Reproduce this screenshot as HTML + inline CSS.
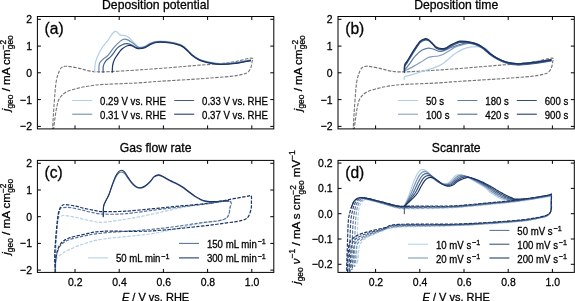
<!DOCTYPE html>
<html><head><meta charset="utf-8"><style>
html,body{margin:0;padding:0;background:#fff;width:575px;height:301px;overflow:hidden}
svg{display:block;font-family:"Liberation Sans",sans-serif;will-change:transform}
text{stroke:#000;stroke-width:0.28px;fill:#000}
</style></head><body><svg width="575" height="301" viewBox="0 0 575 301" font-family="&quot;Liberation Sans&quot;, sans-serif"><defs><clipPath id="clipa"><rect x="37.40" y="16.50" width="236.40" height="112.40"/></clipPath><clipPath id="clipb"><rect x="338.00" y="16.50" width="236.30" height="112.40"/></clipPath><clipPath id="clipc"><rect x="37.40" y="160.40" width="236.40" height="112.00"/></clipPath><clipPath id="clipd"><rect x="338.00" y="160.40" width="236.30" height="112.00"/></clipPath></defs><path d="M52.60,131.00 C52.62,130.43 52.60,129.78 52.70,127.60 C52.80,125.42 53.00,121.27 53.20,117.90 C53.40,114.53 53.60,111.63 53.90,107.40 C54.20,103.17 54.63,96.70 55.00,92.50 C55.37,88.30 55.58,85.27 56.10,82.20 C56.62,79.13 57.27,76.47 58.10,74.10 C58.93,71.73 59.92,69.30 61.10,68.00 C62.28,66.70 63.68,66.53 65.20,66.30 C66.72,66.07 67.68,66.22 70.20,66.60 C72.72,66.98 76.93,67.85 80.30,68.60 C83.67,69.35 86.62,70.55 90.40,71.10 C94.18,71.65 96.40,72.00 103.00,71.90 C109.60,71.80 121.83,70.98 130.00,70.50 C138.17,70.02 143.67,69.62 152.00,69.00 C160.33,68.38 172.00,67.45 180.00,66.80 C188.00,66.15 193.30,65.63 200.00,65.10 C206.70,64.57 214.32,64.18 220.20,63.60 C226.08,63.02 230.08,62.52 235.30,61.60 C240.52,60.68 248.72,58.02 251.50,58.10 C254.28,58.18 252.08,60.58 252.00,62.10 C251.92,63.62 251.60,65.60 251.00,67.20 C250.40,68.80 249.67,70.53 248.40,71.70 C247.13,72.87 246.42,73.42 243.40,74.20 C240.38,74.98 235.87,75.77 230.30,76.40 C224.73,77.03 215.05,77.60 210.00,78.00 C204.95,78.40 208.33,78.25 200.00,78.80 C191.67,79.35 170.33,80.62 160.00,81.30 C149.67,81.98 145.50,82.47 138.00,82.90 C130.50,83.33 121.33,83.62 115.00,83.90 C108.67,84.18 103.78,84.33 100.00,84.60 C96.22,84.87 94.73,85.17 92.30,85.50 C89.87,85.83 87.88,86.12 85.40,86.60 C82.92,87.08 80.60,87.50 77.40,88.40 C74.20,89.30 69.20,90.32 66.20,92.00 C63.20,93.68 60.98,95.93 59.40,98.50 C57.82,101.07 57.43,104.17 56.70,107.40 C55.97,110.63 55.48,114.53 55.00,117.90 C54.52,121.27 54.03,125.42 53.80,127.60 C53.57,129.78 53.63,130.43 53.60,131.00" fill="none" stroke="#777777" stroke-width="1.10" stroke-linejoin="round" stroke-dasharray="3.4 1.4" clip-path="url(#clipa)"/><path d="M94.60,72.70 C94.65,71.62 94.65,68.30 94.90,66.20 C95.15,64.10 95.40,62.28 96.10,60.10 C96.80,57.92 97.93,55.42 99.10,53.10 C100.27,50.78 101.58,48.37 103.10,46.20 C104.62,44.03 106.77,42.03 108.20,40.10 C109.63,38.17 110.62,36.02 111.70,34.60 C112.78,33.18 113.78,32.02 114.70,31.60 C115.62,31.18 116.27,31.52 117.20,32.10 C118.13,32.68 119.03,34.52 120.30,35.10 C121.57,35.68 123.47,35.27 124.80,35.60 C126.13,35.93 127.03,36.18 128.30,37.10 C129.57,38.02 131.05,39.75 132.40,41.10 C133.75,42.45 135.23,44.20 136.40,45.20 C137.57,46.20 137.97,46.95 139.40,47.10 C140.83,47.25 143.22,46.77 145.00,46.10 C146.78,45.43 148.42,43.88 150.10,43.11 C151.78,42.34 153.42,41.80 155.10,41.48 C156.78,41.16 158.52,41.21 160.20,41.20 C161.88,41.19 163.52,41.27 165.20,41.40 C166.88,41.53 168.62,41.73 170.30,42.00 C171.98,42.27 173.68,42.60 175.30,43.00 C176.92,43.40 178.55,43.78 180.00,44.40 C181.45,45.02 182.67,45.70 184.00,46.70 C185.33,47.70 186.50,49.00 188.00,50.40 C189.50,51.80 191.33,53.77 193.00,55.10 C194.67,56.43 196.50,57.57 198.00,58.40 C199.50,59.23 199.98,59.47 202.00,60.10 C204.02,60.73 207.07,61.63 210.10,62.20 C213.13,62.77 216.00,63.45 220.20,63.50 C224.40,63.55 230.17,63.13 235.30,62.50 C240.43,61.87 248.38,60.17 251.00,59.70" fill="none" stroke="#b3cfe8" stroke-width="1.20" stroke-linejoin="round" clip-path="url(#clipa)"/><path d="M98.90,72.70 C98.97,71.28 98.77,66.30 99.30,64.20 C99.83,62.10 100.62,61.62 102.10,60.10 C103.58,58.58 106.18,57.25 108.20,55.10 C110.22,52.95 112.18,49.53 114.20,47.20 C116.22,44.87 118.62,42.45 120.30,41.10 C121.98,39.75 122.97,39.27 124.30,39.10 C125.63,38.93 126.95,39.50 128.30,40.10 C129.65,40.70 130.88,41.60 132.40,42.70 C133.92,43.80 136.23,45.87 137.40,46.70 C138.57,47.53 138.13,47.70 139.40,47.70 C140.67,47.70 143.22,47.37 145.00,46.70 C146.78,46.03 148.42,44.50 150.10,43.70 C151.78,42.91 153.42,42.29 155.10,41.93 C156.78,41.57 158.52,41.59 160.20,41.56 C161.88,41.53 163.52,41.63 165.20,41.76 C166.88,41.89 168.62,42.09 170.30,42.36 C171.98,42.63 173.68,42.96 175.30,43.36 C176.92,43.76 178.55,44.14 180.00,44.76 C181.45,45.38 182.67,46.06 184.00,47.06 C185.33,48.06 186.50,49.36 188.00,50.76 C189.50,52.16 191.33,54.13 193.00,55.46 C194.67,56.79 196.50,57.93 198.00,58.76 C199.50,59.59 199.98,59.83 202.00,60.46 C204.02,61.09 207.07,61.99 210.10,62.56 C213.13,63.13 216.00,63.81 220.20,63.86 C224.40,63.91 230.17,63.49 235.30,62.86 C240.43,62.23 248.38,60.53 251.00,60.06" fill="none" stroke="#6c87aa" stroke-width="1.20" stroke-linejoin="round" clip-path="url(#clipa)"/><path d="M103.10,72.70 C103.13,71.62 102.87,68.13 103.30,66.20 C103.73,64.27 104.38,62.78 105.70,61.10 C107.02,59.42 109.28,58.25 111.20,56.10 C113.12,53.95 115.35,50.10 117.20,48.20 C119.05,46.30 120.62,45.45 122.30,44.70 C123.98,43.95 125.62,43.62 127.30,43.70 C128.98,43.78 130.72,44.45 132.40,45.20 C134.08,45.95 136.23,47.71 137.40,48.20 C138.57,48.69 138.13,48.33 139.40,48.15 C140.67,47.97 143.22,47.82 145.00,47.15 C146.78,46.48 148.42,44.97 150.10,44.15 C151.78,43.34 153.42,42.65 155.10,42.26 C156.78,41.88 158.52,41.87 160.20,41.83 C161.88,41.79 163.52,41.90 165.20,42.03 C166.88,42.16 168.62,42.36 170.30,42.63 C171.98,42.90 173.68,43.23 175.30,43.63 C176.92,44.03 178.55,44.41 180.00,45.03 C181.45,45.65 182.67,46.33 184.00,47.33 C185.33,48.33 186.50,49.63 188.00,51.03 C189.50,52.43 191.33,54.40 193.00,55.73 C194.67,57.06 196.50,58.20 198.00,59.03 C199.50,59.86 199.98,60.10 202.00,60.73 C204.02,61.36 207.07,62.26 210.10,62.83 C213.13,63.40 216.00,64.08 220.20,64.13 C224.40,64.18 230.17,63.76 235.30,63.13 C240.43,62.50 248.38,60.80 251.00,60.33" fill="none" stroke="#405a84" stroke-width="1.20" stroke-linejoin="round" clip-path="url(#clipa)"/><path d="M112.20,72.70 C112.28,71.45 112.28,67.47 112.70,65.20 C113.12,62.93 113.60,61.28 114.70,59.10 C115.80,56.92 118.03,53.83 119.30,52.10 C120.57,50.37 120.97,49.77 122.30,48.70 C123.63,47.63 125.78,46.20 127.30,45.70 C128.82,45.20 130.05,45.37 131.40,45.70 C132.75,46.03 134.07,47.19 135.40,47.70 C136.73,48.21 137.80,48.74 139.40,48.75 C141.00,48.76 143.22,48.42 145.00,47.75 C146.78,47.08 148.42,45.59 150.10,44.75 C151.78,43.91 153.42,43.14 155.10,42.71 C156.78,42.29 158.52,42.24 160.20,42.19 C161.88,42.14 163.52,42.26 165.20,42.39 C166.88,42.52 168.62,42.72 170.30,42.99 C171.98,43.26 173.68,43.59 175.30,43.99 C176.92,44.39 178.55,44.77 180.00,45.39 C181.45,46.01 182.67,46.69 184.00,47.69 C185.33,48.69 186.50,49.99 188.00,51.39 C189.50,52.79 191.33,54.76 193.00,56.09 C194.67,57.42 196.50,58.56 198.00,59.39 C199.50,60.22 199.98,60.46 202.00,61.09 C204.02,61.72 207.07,62.62 210.10,63.19 C213.13,63.76 216.00,64.44 220.20,64.49 C224.40,64.54 230.17,64.12 235.30,63.49 C240.43,62.86 248.38,61.16 251.00,60.69" fill="none" stroke="#1a3463" stroke-width="1.20" stroke-linejoin="round" clip-path="url(#clipa)"/><path d="M353.20,131.00 C353.22,130.43 353.20,129.78 353.30,127.60 C353.40,125.42 353.60,121.27 353.80,117.90 C354.00,114.53 354.20,111.63 354.50,107.40 C354.80,103.17 355.23,96.70 355.60,92.50 C355.97,88.30 356.18,85.27 356.70,82.20 C357.22,79.13 357.87,76.47 358.70,74.10 C359.53,71.73 360.52,69.30 361.70,68.00 C362.88,66.70 364.28,66.53 365.80,66.30 C367.32,66.07 368.28,66.22 370.80,66.60 C373.32,66.98 377.53,67.85 380.90,68.60 C384.27,69.35 387.22,70.55 391.00,71.10 C394.78,71.65 397.00,72.00 403.60,71.90 C410.20,71.80 422.43,70.98 430.60,70.50 C438.77,70.02 444.27,69.62 452.60,69.00 C460.93,68.38 472.60,67.45 480.60,66.80 C488.60,66.15 493.90,65.63 500.60,65.10 C507.30,64.57 514.92,64.18 520.80,63.60 C526.68,63.02 530.68,62.52 535.90,61.60 C541.12,60.68 549.32,58.02 552.10,58.10 C554.88,58.18 552.68,60.58 552.60,62.10 C552.52,63.62 552.20,65.60 551.60,67.20 C551.00,68.80 550.27,70.53 549.00,71.70 C547.73,72.87 547.02,73.42 544.00,74.20 C540.98,74.98 536.47,75.77 530.90,76.40 C525.33,77.03 515.65,77.60 510.60,78.00 C505.55,78.40 508.93,78.25 500.60,78.80 C492.27,79.35 470.93,80.62 460.60,81.30 C450.27,81.98 446.10,82.47 438.60,82.90 C431.10,83.33 421.93,83.62 415.60,83.90 C409.27,84.18 404.38,84.33 400.60,84.60 C396.82,84.87 395.33,85.17 392.90,85.50 C390.47,85.83 388.48,86.12 386.00,86.60 C383.52,87.08 381.20,87.50 378.00,88.40 C374.80,89.30 369.80,90.32 366.80,92.00 C363.80,93.68 361.58,95.93 360.00,98.50 C358.42,101.07 358.03,104.17 357.30,107.40 C356.57,110.63 356.08,114.53 355.60,117.90 C355.12,121.27 354.63,125.42 354.40,127.60 C354.17,129.78 354.23,130.43 354.20,131.00" fill="none" stroke="#777777" stroke-width="1.15" stroke-linejoin="round" stroke-dasharray="3.4 1.4" clip-path="url(#clipb)"/><path d="M404.30,80.20 C404.30,79.70 404.10,77.85 404.30,77.20 C404.50,76.55 404.03,76.77 405.50,76.30 C406.97,75.83 410.15,75.27 413.10,74.40 C416.05,73.53 419.83,72.15 423.20,71.10 C426.57,70.05 430.27,69.18 433.30,68.10 C436.33,67.02 438.87,66.12 441.40,64.60 C443.93,63.08 446.23,60.82 448.50,59.00 C450.77,57.18 452.57,55.35 455.00,53.70 C457.43,52.05 460.58,50.20 463.10,49.10 C465.62,48.00 467.42,47.48 470.10,47.10 C472.78,46.72 476.55,46.52 479.20,46.80 C481.85,47.08 484.03,47.62 486.00,48.80 C487.97,49.98 489.10,52.27 491.00,53.90 C492.90,55.53 494.98,57.23 497.40,58.60 C499.82,59.97 502.90,61.27 505.50,62.10 C508.10,62.93 510.57,63.28 513.00,63.60 C515.43,63.92 516.38,64.18 520.10,64.00 C523.82,63.82 530.08,63.20 535.30,62.50 C540.52,61.80 548.72,60.25 551.40,59.80" fill="none" stroke="#b3cfe8" stroke-width="1.20" stroke-linejoin="round" clip-path="url(#clipb)"/><path d="M404.30,71.00 C405.77,70.27 410.45,68.00 413.10,66.60 C415.75,65.20 417.83,64.03 420.20,62.60 C422.57,61.17 425.12,59.02 427.30,58.00 C429.48,56.98 431.47,56.83 433.30,56.50 C435.13,56.17 436.62,56.38 438.30,56.00 C439.98,55.62 441.37,55.18 443.40,54.20 C445.43,53.22 448.57,51.28 450.50,50.10 C452.43,48.92 452.90,48.02 455.00,47.10 C457.10,46.18 460.58,45.25 463.10,44.60 C465.62,43.95 467.58,43.17 470.10,43.20 C472.62,43.23 476.85,44.57 478.20,44.80 C479.55,45.03 477.18,43.97 478.20,44.60 C479.22,45.23 482.28,47.08 484.30,48.60 C486.32,50.12 488.12,52.10 490.30,53.70 C492.48,55.30 494.87,56.87 497.40,58.20 C499.93,59.53 502.90,60.85 505.50,61.70 C508.10,62.55 510.57,62.97 513.00,63.30 C515.43,63.63 516.38,63.88 520.10,63.70 C523.82,63.52 530.08,62.88 535.30,62.20 C540.52,61.52 548.72,60.03 551.40,59.60" fill="none" stroke="#819dbd" stroke-width="1.20" stroke-linejoin="round" clip-path="url(#clipb)"/><path d="M404.30,70.50 C405.27,69.27 408.30,65.48 410.10,63.10 C411.90,60.72 413.08,58.37 415.10,56.20 C417.12,54.03 420.00,51.45 422.20,50.10 C424.40,48.75 426.45,48.27 428.30,48.10 C430.15,47.93 431.63,48.60 433.30,49.10 C434.97,49.60 436.78,50.77 438.30,51.10 C439.82,51.43 440.88,51.43 442.40,51.10 C443.92,50.77 444.80,50.12 447.40,49.10 C450.00,48.08 454.22,46.12 458.00,45.00 C461.78,43.88 466.73,42.47 470.10,42.40 C473.47,42.33 476.85,44.23 478.20,44.60 C479.55,44.97 477.18,43.93 478.20,44.60 C479.22,45.27 482.28,47.08 484.30,48.60 C486.32,50.12 488.12,52.10 490.30,53.70 C492.48,55.30 494.87,56.87 497.40,58.20 C499.93,59.53 502.90,60.85 505.50,61.70 C508.10,62.55 510.57,62.97 513.00,63.30 C515.43,63.63 516.38,63.88 520.10,63.70 C523.82,63.52 530.08,62.88 535.30,62.20 C540.52,61.52 548.72,60.03 551.40,59.60" fill="none" stroke="#627da2" stroke-width="1.20" stroke-linejoin="round" clip-path="url(#clipb)"/><path d="M404.60,73.10 C404.65,71.98 404.43,68.18 404.90,66.40 C405.37,64.62 406.48,63.88 407.40,62.40 C408.32,60.92 409.07,59.67 410.40,57.50 C411.73,55.33 413.72,51.92 415.40,49.40 C417.08,46.88 418.90,43.95 420.50,42.40 C422.10,40.85 423.65,40.37 425.00,40.10 C426.35,39.83 427.33,40.08 428.60,40.80 C429.87,41.52 431.27,43.13 432.60,44.40 C433.93,45.67 435.08,47.48 436.60,48.40 C438.12,49.32 440.18,49.73 441.70,49.90 C443.22,50.07 444.18,49.98 445.70,49.40 C447.22,48.82 448.70,47.48 450.80,46.40 C452.90,45.32 456.53,43.57 458.30,42.90 C460.07,42.23 459.38,42.32 461.40,42.40 C463.42,42.48 467.55,42.82 470.40,43.40 C473.25,43.98 476.13,44.82 478.50,45.90 C480.87,46.98 482.58,48.38 484.60,49.90 C486.62,51.42 488.42,53.40 490.60,55.00 C492.78,56.60 495.17,58.17 497.70,59.50 C500.23,60.83 503.20,62.15 505.80,63.00 C508.40,63.85 510.87,64.27 513.30,64.60 C515.73,64.93 516.68,65.18 520.40,65.00 C524.12,64.82 530.38,64.18 535.60,63.50 C540.82,62.82 549.02,61.33 551.70,60.90" fill="none" stroke="#48638b" stroke-width="1.20" stroke-linejoin="round" clip-path="url(#clipb)"/><path d="M404.40,72.40 C404.45,71.28 404.23,67.48 404.70,65.70 C405.17,63.92 406.28,63.18 407.20,61.70 C408.12,60.22 408.87,58.97 410.20,56.80 C411.53,54.63 413.52,51.22 415.20,48.70 C416.88,46.18 418.70,43.25 420.30,41.70 C421.90,40.15 423.45,39.67 424.80,39.40 C426.15,39.13 427.13,39.38 428.40,40.10 C429.67,40.82 431.07,42.43 432.40,43.70 C433.73,44.97 434.88,46.78 436.40,47.70 C437.92,48.62 439.98,49.03 441.50,49.20 C443.02,49.37 443.98,49.28 445.50,48.70 C447.02,48.12 448.50,46.78 450.60,45.70 C452.70,44.62 456.33,42.87 458.10,42.20 C459.87,41.53 459.18,41.62 461.20,41.70 C463.22,41.78 467.35,42.12 470.20,42.70 C473.05,43.28 475.93,44.12 478.30,45.20 C480.67,46.28 482.38,47.68 484.40,49.20 C486.42,50.72 488.22,52.70 490.40,54.30 C492.58,55.90 494.97,57.47 497.50,58.80 C500.03,60.13 503.00,61.45 505.60,62.30 C508.20,63.15 510.67,63.57 513.10,63.90 C515.53,64.23 516.48,64.48 520.20,64.30 C523.92,64.12 530.18,63.48 535.40,62.80 C540.62,62.12 548.82,60.63 551.50,60.20" fill="none" stroke="#304a76" stroke-width="1.20" stroke-linejoin="round" clip-path="url(#clipb)"/><path d="M404.30,71.80 C404.35,70.68 404.13,66.88 404.60,65.10 C405.07,63.32 406.18,62.58 407.10,61.10 C408.02,59.62 408.77,58.37 410.10,56.20 C411.43,54.03 413.42,50.62 415.10,48.10 C416.78,45.58 418.60,42.65 420.20,41.10 C421.80,39.55 423.35,39.07 424.70,38.80 C426.05,38.53 427.03,38.78 428.30,39.50 C429.57,40.22 430.97,41.83 432.30,43.10 C433.63,44.37 434.78,46.18 436.30,47.10 C437.82,48.02 439.88,48.43 441.40,48.60 C442.92,48.77 443.88,48.68 445.40,48.10 C446.92,47.52 448.40,46.18 450.50,45.10 C452.60,44.02 456.23,42.27 458.00,41.60 C459.77,40.93 459.08,41.02 461.10,41.10 C463.12,41.18 467.25,41.52 470.10,42.10 C472.95,42.68 475.83,43.52 478.20,44.60 C480.57,45.68 482.28,47.08 484.30,48.60 C486.32,50.12 488.12,52.10 490.30,53.70 C492.48,55.30 494.87,56.87 497.40,58.20 C499.93,59.53 502.90,60.85 505.50,61.70 C508.10,62.55 510.57,62.97 513.00,63.30 C515.43,63.63 516.38,63.88 520.10,63.70 C523.82,63.52 530.08,62.88 535.30,62.20 C540.52,61.52 548.72,60.03 551.40,59.60" fill="none" stroke="#1a3463" stroke-width="1.20" stroke-linejoin="round" clip-path="url(#clipb)"/><path d="M55.60,272.00 C55.63,270.33 55.65,267.33 55.80,262.00 C55.95,256.67 56.12,247.05 56.50,240.00 C56.88,232.95 57.33,223.68 58.10,219.70 C58.87,215.72 59.92,216.78 61.10,216.10 C62.28,215.42 62.83,215.42 65.20,215.60 C67.57,215.78 71.93,216.52 75.30,217.20 C78.67,217.88 82.03,218.95 85.40,219.70 C88.77,220.45 92.57,221.28 95.50,221.70 C98.43,222.12 98.03,222.60 103.00,222.20 C107.97,221.80 117.47,220.57 125.30,219.30 C133.13,218.03 141.45,216.38 150.00,214.60 C158.55,212.82 168.27,210.28 176.60,208.60 C184.93,206.92 191.22,205.72 200.00,204.50 C208.78,203.28 224.32,200.67 229.30,201.30 C234.28,201.93 230.02,206.02 229.90,208.30 C229.78,210.58 229.37,213.27 228.60,215.00 C227.83,216.73 227.18,217.65 225.30,218.70 C223.42,219.75 220.18,220.75 217.30,221.30 C214.42,221.85 214.78,220.78 208.00,222.00 C201.22,223.22 186.27,226.60 176.60,228.60 C166.93,230.60 162.30,232.25 150.00,234.00 C137.70,235.75 113.80,237.47 102.80,239.10 C91.80,240.73 89.73,241.98 84.00,243.80 C78.27,245.62 72.30,248.18 68.40,250.00 C64.50,251.82 62.55,253.27 60.60,254.70 C58.65,256.13 57.53,256.72 56.70,258.60 C55.87,260.48 55.78,263.43 55.60,266.00 C55.42,268.57 55.60,272.67 55.60,274.00" fill="none" stroke="#b3cfe8" stroke-width="1.15" stroke-linejoin="round" stroke-dasharray="3.4 1.4" clip-path="url(#clipc)"/><path d="M55.20,272.00 C55.20,271.72 55.27,272.92 55.20,270.30 C55.13,267.68 54.70,261.35 54.80,256.30 C54.90,251.25 55.30,246.05 55.80,240.00 C56.30,233.95 57.08,225.15 57.80,220.00 C58.52,214.85 59.20,211.17 60.10,209.10 C61.00,207.03 61.52,207.85 63.20,207.60 C64.88,207.35 67.35,207.27 70.20,207.60 C73.05,207.93 76.93,208.85 80.30,209.60 C83.67,210.35 86.62,211.35 90.40,212.10 C94.18,212.85 97.18,213.83 103.00,214.10 C108.82,214.37 116.97,214.35 125.30,213.70 C133.63,213.05 143.88,211.32 153.00,210.20 C162.12,209.08 170.83,208.07 180.00,207.00 C189.17,205.93 199.78,204.80 208.00,203.80 C216.22,202.80 225.65,200.25 229.30,201.00 C232.95,201.75 230.02,205.97 229.90,208.30 C229.78,210.63 229.37,213.27 228.60,215.00 C227.83,216.73 227.18,217.72 225.30,218.70 C223.42,219.68 221.52,220.20 217.30,220.90 C213.08,221.60 206.88,221.97 200.00,222.90 C193.12,223.83 184.33,225.40 176.00,226.50 C167.67,227.60 162.20,228.42 150.00,229.50 C137.80,230.58 113.80,231.92 102.80,233.00 C91.80,234.08 89.73,234.83 84.00,236.00 C78.27,237.17 72.30,238.45 68.40,240.00 C64.50,241.55 62.47,243.13 60.60,245.30 C58.73,247.47 58.03,250.30 57.20,253.00 C56.37,255.70 55.93,258.62 55.60,261.50 C55.27,264.38 55.27,268.22 55.20,270.30 C55.13,272.38 55.20,273.38 55.20,274.00" fill="none" stroke="#557096" stroke-width="1.15" stroke-linejoin="round" stroke-dasharray="3.4 1.4" clip-path="url(#clipc)"/><path d="M55.20,272.00 C55.20,271.72 55.27,272.92 55.20,270.30 C55.13,267.68 54.73,261.35 54.80,256.30 C54.87,251.25 55.13,246.35 55.60,240.00 C56.07,233.65 56.93,223.35 57.60,218.20 C58.27,213.05 58.83,211.22 59.60,209.10 C60.37,206.98 61.27,206.27 62.20,205.50 C63.13,204.73 63.02,204.40 65.20,204.50 C67.38,204.60 71.93,205.42 75.30,206.10 C78.67,206.78 82.03,207.85 85.40,208.60 C88.77,209.35 92.57,210.10 95.50,210.60 C98.43,211.10 98.03,211.50 103.00,211.60 C107.97,211.70 116.97,211.68 125.30,211.20 C133.63,210.72 143.88,209.57 153.00,208.70 C162.12,207.83 170.83,206.90 180.00,206.00 C189.17,205.10 199.87,204.37 208.00,203.30 C216.13,202.23 222.13,200.80 228.80,199.60 C235.47,198.40 244.27,196.75 248.00,196.10 C251.73,195.45 250.63,194.72 251.20,195.70 C251.77,196.68 251.40,199.90 251.40,202.00 C251.40,204.10 251.68,205.92 251.20,208.30 C250.72,210.68 249.93,214.30 248.50,216.30 C247.07,218.30 246.25,219.20 242.60,220.30 C238.95,221.40 233.70,221.90 226.60,222.90 C219.50,223.90 212.77,224.95 200.00,226.30 C187.23,227.65 166.20,230.17 150.00,231.00 C133.80,231.83 113.80,230.73 102.80,231.30 C91.80,231.87 89.73,233.23 84.00,234.40 C78.27,235.57 72.30,236.73 68.40,238.30 C64.50,239.87 62.47,241.58 60.60,243.80 C58.73,246.02 58.03,248.75 57.20,251.60 C56.37,254.45 55.93,257.78 55.60,260.90 C55.27,264.02 55.27,268.12 55.20,270.30 C55.13,272.48 55.20,273.38 55.20,274.00" fill="none" stroke="#1a3463" stroke-width="1.20" stroke-linejoin="round" stroke-dasharray="3.4 1.4" clip-path="url(#clipc)"/><path d="M103.30,217.20 C103.35,215.43 103.13,209.37 103.60,206.60 C104.07,203.84 105.18,202.62 106.10,200.61 C107.02,198.60 108.10,197.01 109.10,194.56 C110.10,192.11 111.00,188.80 112.10,185.91 C113.20,183.03 114.60,179.37 115.70,177.25 C116.80,175.14 117.70,174.08 118.70,173.21 C119.70,172.33 120.70,171.92 121.70,172.00 C122.70,172.07 123.60,172.55 124.70,173.65 C125.80,174.76 127.03,176.91 128.30,178.61 C129.57,180.30 130.97,182.39 132.30,183.82 C133.63,185.26 134.95,186.48 136.30,187.21 C137.65,187.94 138.88,188.37 140.40,188.20 C141.92,188.03 143.72,187.30 145.40,186.20 C147.08,185.10 149.07,183.12 150.50,181.60 C151.93,180.08 152.65,178.13 154.00,177.10 C155.35,176.07 157.08,175.40 158.60,175.40 C160.12,175.40 161.17,176.15 163.10,177.10 C165.03,178.05 168.02,180.00 170.20,181.10 C172.38,182.20 174.18,182.68 176.20,183.70 C178.22,184.72 180.28,185.87 182.30,187.20 C184.32,188.53 186.18,190.13 188.30,191.70 C190.42,193.27 193.03,195.28 195.00,196.60 C196.97,197.92 198.25,198.77 200.10,199.60 C201.95,200.43 203.58,201.18 206.10,201.60 C208.62,202.02 211.42,202.18 215.20,202.10 C218.98,202.02 226.53,201.27 228.80,201.10" fill="none" stroke="#557096" stroke-width="1.10" stroke-linejoin="round" clip-path="url(#clipc)"/><path d="M103.30,216.70 C103.35,214.93 103.13,208.87 103.60,206.10 C104.07,203.33 105.18,202.12 106.10,200.10 C107.02,198.08 108.10,196.48 109.10,194.00 C110.10,191.52 111.00,188.18 112.10,185.20 C113.20,182.22 114.60,178.37 115.70,176.10 C116.80,173.83 117.70,172.58 118.70,171.60 C119.70,170.62 120.70,170.12 121.70,170.20 C122.70,170.28 123.60,170.87 124.70,172.10 C125.80,173.33 127.03,175.75 128.30,177.60 C129.57,179.45 130.97,181.68 132.30,183.20 C133.63,184.72 134.95,185.95 136.30,186.70 C137.65,187.45 138.88,187.87 140.40,187.70 C141.92,187.53 143.72,186.80 145.40,185.70 C147.08,184.60 149.07,182.62 150.50,181.10 C151.93,179.58 152.65,177.63 154.00,176.60 C155.35,175.57 157.08,174.90 158.60,174.90 C160.12,174.90 161.17,175.65 163.10,176.60 C165.03,177.55 168.02,179.50 170.20,180.60 C172.38,181.70 174.18,182.18 176.20,183.20 C178.22,184.22 180.28,185.37 182.30,186.70 C184.32,188.03 186.18,189.63 188.30,191.20 C190.42,192.77 193.03,194.78 195.00,196.10 C196.97,197.42 198.25,198.27 200.10,199.10 C201.95,199.93 203.58,200.68 206.10,201.10 C208.62,201.52 211.42,201.68 215.20,201.60 C218.98,201.52 226.53,200.77 228.80,200.60" fill="none" stroke="#1a3463" stroke-width="1.10" stroke-linejoin="round" clip-path="url(#clipc)"/><path d="M404.10,206.70 L404.34,206.12 L404.59,205.55 L404.84,204.97 L405.09,204.40 L405.34,203.82 L405.59,203.25 L405.83,202.67 L406.08,202.10 L406.33,201.52 L406.57,200.95 L406.82,200.37 L407.06,199.80 L407.31,199.22 L407.55,198.64 L407.79,198.06 L408.03,197.48 L408.27,196.90 L408.50,196.32 L408.73,195.74 L408.96,195.16 L409.18,194.57 L409.40,193.99 L409.62,193.40 L409.83,192.81 L410.03,192.22 L410.23,191.62 L410.43,191.03 L410.63,190.44 L410.83,189.84 L411.02,189.25 L411.21,188.65 L411.41,188.05 L411.60,187.46 L411.80,186.86 L412.00,186.27 L412.20,185.68 L412.40,185.09 L412.62,184.50 L412.83,183.91 L413.05,183.32 L413.28,182.74 L413.51,182.16 L413.75,181.58 L413.99,181.00 L414.23,180.42 L414.47,179.84 L414.72,179.27 L414.97,178.70 L415.22,178.12 L415.48,177.55 L415.75,176.99 L416.01,176.42 L416.29,175.86 L416.57,175.29 L416.85,174.74 L417.15,174.19 L417.46,173.64 L417.80,173.11 L418.15,172.60 L418.53,172.10 L418.95,171.63 L419.40,171.20 L419.87,170.78 L420.35,170.38 L420.86,170.02 L421.41,169.73 L422.01,169.56 L422.63,169.50 L423.26,169.53 L423.88,169.64 L424.47,169.83 L425.04,170.10 L425.58,170.42 L426.08,170.79 L426.55,171.20 L427.00,171.64 L427.44,172.09 L427.86,172.54 L428.29,173.01 L428.71,173.47 L429.14,173.93 L429.56,174.39 L429.97,174.86 L430.38,175.34 L430.77,175.82 L431.17,176.31 L431.57,176.79 L431.97,177.27 L432.38,177.74 L432.80,178.20 L433.24,178.65 L433.69,179.08 L434.17,179.49 L434.67,179.87 L435.18,180.22 L435.71,180.56 L436.26,180.87 L436.81,181.16 L437.37,181.44 L437.94,181.70 L438.51,181.96 L439.09,182.20 L439.67,182.43 L440.26,182.65 L440.85,182.87 L441.43,183.08 L442.03,183.28 L442.63,183.47 L443.23,183.62 L443.85,183.72 L444.48,183.76 L445.10,183.74 L445.72,183.64 L446.32,183.48 L446.91,183.27 L447.49,183.02 L448.05,182.74 L448.59,182.43 L449.12,182.10 L449.64,181.74 L450.14,181.37 L450.63,180.98 L451.09,180.56 L451.53,180.11 L451.94,179.63 L452.33,179.15 L452.72,178.66 L453.11,178.16 L453.50,177.67 L453.90,177.19 L454.32,176.73 L454.77,176.30 L455.26,175.91 L455.77,175.55 L456.31,175.22 L456.87,174.96 L457.47,174.76 L458.08,174.65 L458.71,174.61 L459.33,174.61 L459.96,174.64 L460.58,174.71 L461.20,174.81 L461.81,174.95 L462.42,175.11 L463.01,175.30 L463.60,175.50 L464.19,175.73 L464.77,175.96 L465.34,176.21 L465.91,176.47 L466.48,176.74 L467.04,177.02 L467.59,177.31 L468.15,177.60 L468.70,177.90 L469.25,178.20 L469.80,178.51 L470.34,178.81 L470.89,179.12 L471.43,179.43 L471.98,179.74 L472.52,180.05 L473.06,180.37 L473.60,180.68 L474.14,180.99 L474.69,181.30 L475.23,181.62 L475.77,181.93 L476.32,182.24 L476.86,182.55 L477.40,182.86 L477.95,183.18 L478.49,183.49 L479.03,183.80 L479.57,184.12 L480.11,184.44 L480.65,184.76 L481.19,185.08 L481.72,185.40 L482.26,185.72 L482.79,186.05 L483.32,186.39 L483.85,186.72 L484.37,187.07 L484.89,187.42 L485.40,187.78 L485.90,188.15 L486.38,188.56 L486.84,188.99 L487.26,189.45 L487.67,189.92 L488.08,190.40 L488.51,190.85 L488.96,191.28 L489.44,191.68 L489.95,192.06 L490.46,192.42 L490.97,192.78 L491.48,193.14 L492.00,193.49 L492.52,193.84 L493.04,194.19 L493.56,194.53 L494.09,194.87 L494.62,195.21 L495.15,195.54 L495.68,195.87 L496.22,196.19 L496.76,196.50 L497.31,196.81 L497.86,197.11 L498.41,197.40 L498.97,197.68 L499.54,197.95 L500.11,198.20 L500.69,198.44 L501.28,198.66 L501.87,198.87 L502.46,199.07 L503.06,199.25 L503.66,199.42 L504.27,199.59 L504.87,199.74 L505.48,199.88 L506.10,200.01 L506.71,200.13 L507.33,200.25 L507.94,200.36 L508.56,200.46 L509.18,200.55 L509.80,200.64 L510.42,200.73 L511.04,200.81 L511.66,200.88 L512.29,200.94 L512.91,200.99 L513.54,201.01 L514.16,201.01 L514.79,200.99 L515.41,200.95 L516.04,200.91 L516.66,200.86 L517.29,200.80 L517.91,200.74 L518.53,200.67 L519.15,200.61 L519.78,200.54 L520.40,200.46 L521.02,200.38 L521.64,200.30 L522.26,200.22 L522.88,200.13 L523.50,200.04 L524.12,199.96 L524.74,199.87 L525.36,199.77 L525.98,199.68 L526.60,199.59 L527.22,199.49 L527.84,199.39 L528.45,199.30 L529.07,199.20 L529.69,199.10 L530.31,199.00 L530.93,198.90 L531.55,198.79 L532.16,198.69 L532.78,198.58 L533.40,198.48 L534.01,198.37 L534.63,198.26 L535.25,198.16 L535.86,198.04 L536.48,197.93 L537.10,197.81 L537.71,197.70 L538.33,197.58 L538.94,197.46 L539.55,197.34 L540.17,197.21 L540.78,197.09 L541.40,196.96 L542.01,196.84 L542.62,196.71 L543.24,196.58 L543.85,196.46 L544.46,196.33 L545.07,196.20 L545.69,196.07 L546.30,195.94 L546.91,195.81 L547.52,195.68 L548.14,195.55 L548.75,195.42 L549.36,195.29 L549.97,195.16 L550.59,195.03 L551.20,194.90" fill="none" stroke="#b3cfe8" stroke-width="1.20" stroke-linejoin="round" clip-path="url(#clipd)"/><path d="M404.10,206.70 L404.39,206.17 L404.67,205.64 L404.96,205.11 L405.25,204.58 L405.55,204.05 L405.84,203.52 L406.13,202.99 L406.41,202.46 L406.70,201.93 L406.99,201.40 L407.28,200.87 L407.57,200.34 L407.85,199.81 L408.14,199.27 L408.42,198.74 L408.70,198.21 L408.98,197.67 L409.26,197.14 L409.54,196.60 L409.81,196.06 L410.08,195.52 L410.34,194.98 L410.60,194.44 L410.86,193.89 L411.11,193.35 L411.36,192.80 L411.61,192.25 L411.85,191.69 L412.09,191.14 L412.33,190.58 L412.56,190.03 L412.80,189.46 L413.03,188.90 L413.25,188.34 L413.48,187.77 L413.71,187.21 L413.93,186.64 L414.16,186.07 L414.39,185.50 L414.62,184.94 L414.86,184.37 L415.09,183.81 L415.33,183.25 L415.58,182.68 L415.82,182.12 L416.08,181.57 L416.33,181.01 L416.60,180.46 L416.86,179.91 L417.13,179.36 L417.40,178.81 L417.67,178.26 L417.95,177.71 L418.24,177.17 L418.53,176.63 L418.83,176.10 L419.14,175.57 L419.48,175.06 L419.83,174.56 L420.22,174.09 L420.63,173.63 L421.07,173.21 L421.54,172.81 L422.02,172.43 L422.52,172.08 L423.07,171.81 L423.65,171.62 L424.25,171.54 L424.86,171.53 L425.46,171.60 L426.05,171.74 L426.62,171.95 L427.16,172.22 L427.68,172.54 L428.17,172.90 L428.64,173.28 L429.10,173.68 L429.54,174.09 L429.98,174.50 L430.42,174.92 L430.86,175.35 L431.30,175.77 L431.73,176.20 L432.15,176.64 L432.57,177.08 L432.98,177.53 L433.40,177.97 L433.82,178.41 L434.24,178.85 L434.67,179.29 L435.11,179.71 L435.56,180.12 L436.04,180.51 L436.53,180.88 L437.03,181.23 L437.55,181.55 L438.09,181.85 L438.63,182.13 L439.18,182.40 L439.74,182.65 L440.30,182.89 L440.87,183.11 L441.45,183.32 L442.03,183.51 L442.61,183.69 L443.20,183.86 L443.78,184.00 L444.37,184.12 L444.97,184.21 L445.57,184.25 L446.18,184.24 L446.78,184.17 L447.37,184.04 L447.96,183.86 L448.53,183.64 L449.08,183.39 L449.62,183.09 L450.14,182.77 L450.64,182.42 L451.13,182.06 L451.62,181.68 L452.09,181.29 L452.54,180.88 L452.98,180.46 L453.41,180.03 L453.83,179.59 L454.25,179.16 L454.67,178.72 L455.09,178.29 L455.52,177.87 L455.96,177.46 L456.43,177.08 L456.93,176.74 L457.45,176.41 L457.99,176.12 L458.54,175.87 L459.13,175.68 L459.72,175.55 L460.33,175.47 L460.94,175.43 L461.54,175.41 L462.14,175.43 L462.75,175.47 L463.35,175.56 L463.94,175.68 L464.53,175.83 L465.12,176.01 L465.70,176.20 L466.27,176.41 L466.84,176.63 L467.41,176.87 L467.97,177.11 L468.52,177.36 L469.08,177.62 L469.63,177.89 L470.18,178.16 L470.72,178.43 L471.27,178.71 L471.81,178.99 L472.36,179.27 L472.90,179.55 L473.44,179.84 L473.98,180.12 L474.52,180.41 L475.06,180.70 L475.60,180.99 L476.13,181.28 L476.67,181.57 L477.21,181.87 L477.75,182.16 L478.28,182.45 L478.82,182.75 L479.36,183.05 L479.89,183.35 L480.42,183.65 L480.96,183.95 L481.49,184.25 L482.02,184.55 L482.55,184.86 L483.08,185.17 L483.61,185.48 L484.13,185.80 L484.66,186.12 L485.18,186.44 L485.70,186.76 L486.21,187.10 L486.72,187.43 L487.22,187.79 L487.70,188.16 L488.16,188.56 L488.61,188.98 L489.03,189.41 L489.46,189.84 L489.91,190.26 L490.37,190.65 L490.85,191.03 L491.35,191.39 L491.85,191.74 L492.36,192.08 L492.87,192.42 L493.38,192.76 L493.89,193.10 L494.40,193.43 L494.92,193.76 L495.44,194.09 L495.96,194.41 L496.48,194.73 L497.01,195.04 L497.54,195.35 L498.07,195.66 L498.60,195.96 L499.14,196.25 L499.68,196.54 L500.23,196.81 L500.78,197.08 L501.34,197.34 L501.90,197.58 L502.47,197.81 L503.04,198.03 L503.61,198.24 L504.19,198.44 L504.77,198.63 L505.35,198.81 L505.94,198.98 L506.53,199.15 L507.12,199.30 L507.71,199.45 L508.30,199.60 L508.89,199.74 L509.48,199.88 L510.08,200.02 L510.67,200.14 L511.27,200.25 L511.88,200.34 L512.49,200.42 L513.10,200.48 L513.71,200.53 L514.32,200.55 L514.93,200.56 L515.54,200.54 L516.16,200.52 L516.77,200.48 L517.38,200.44 L517.99,200.39 L518.60,200.34 L519.21,200.28 L519.82,200.23 L520.43,200.16 L521.04,200.10 L521.65,200.03 L522.25,199.96 L522.86,199.88 L523.47,199.81 L524.08,199.73 L524.68,199.65 L525.29,199.57 L525.90,199.49 L526.51,199.41 L527.11,199.32 L527.72,199.24 L528.33,199.15 L528.93,199.06 L529.54,198.97 L530.14,198.88 L530.75,198.79 L531.35,198.70 L531.96,198.60 L532.56,198.51 L533.17,198.41 L533.77,198.31 L534.38,198.21 L534.98,198.11 L535.59,198.01 L536.19,197.90 L536.79,197.79 L537.40,197.68 L538.00,197.57 L538.60,197.46 L539.20,197.34 L539.80,197.22 L540.40,197.10 L541.01,196.98 L541.61,196.86 L542.21,196.74 L542.81,196.62 L543.41,196.49 L544.01,196.37 L544.61,196.24 L545.21,196.12 L545.80,195.99 L546.40,195.86 L547.00,195.74 L547.60,195.61 L548.20,195.48 L548.80,195.35 L549.40,195.23 L550.00,195.10 L550.60,194.97 L551.20,194.85" fill="none" stroke="#7994b6" stroke-width="1.20" stroke-linejoin="round" clip-path="url(#clipd)"/><path d="M404.10,206.70 L404.43,206.21 L404.76,205.73 L405.09,205.24 L405.42,204.76 L405.75,204.27 L406.08,203.79 L406.42,203.31 L406.75,202.82 L407.08,202.34 L407.41,201.85 L407.74,201.37 L408.07,200.88 L408.40,200.39 L408.72,199.91 L409.05,199.42 L409.38,198.93 L409.70,198.44 L410.02,197.95 L410.34,197.46 L410.66,196.97 L410.97,196.47 L411.28,195.98 L411.59,195.48 L411.89,194.98 L412.19,194.47 L412.49,193.97 L412.78,193.46 L413.07,192.95 L413.36,192.44 L413.64,191.92 L413.92,191.40 L414.19,190.87 L414.45,190.35 L414.71,189.81 L414.97,189.28 L415.22,188.73 L415.46,188.19 L415.71,187.65 L415.95,187.10 L416.19,186.55 L416.43,186.01 L416.68,185.46 L416.92,184.91 L417.17,184.37 L417.42,183.82 L417.68,183.29 L417.95,182.75 L418.22,182.22 L418.50,181.69 L418.78,181.16 L419.05,180.63 L419.33,180.10 L419.62,179.57 L419.90,179.05 L420.20,178.53 L420.51,178.01 L420.82,177.50 L421.16,177.01 L421.52,176.53 L421.90,176.07 L422.31,175.63 L422.75,175.22 L423.21,174.84 L423.69,174.48 L424.19,174.15 L424.72,173.88 L425.29,173.69 L425.87,173.58 L426.46,173.53 L427.05,173.55 L427.64,173.65 L428.21,173.81 L428.75,174.03 L429.28,174.30 L429.79,174.60 L430.28,174.92 L430.75,175.27 L431.22,175.63 L431.68,176.00 L432.14,176.38 L432.59,176.77 L433.04,177.15 L433.49,177.55 L433.92,177.95 L434.36,178.35 L434.80,178.75 L435.23,179.15 L435.67,179.56 L436.10,179.97 L436.54,180.37 L436.98,180.77 L437.43,181.16 L437.90,181.54 L438.38,181.89 L438.88,182.23 L439.39,182.54 L439.92,182.83 L440.45,183.10 L440.99,183.36 L441.54,183.60 L442.10,183.82 L442.66,184.03 L443.23,184.22 L443.80,184.38 L444.38,184.52 L444.96,184.64 L445.54,184.72 L446.12,184.78 L446.71,184.80 L447.29,184.78 L447.88,184.72 L448.46,184.61 L449.03,184.45 L449.59,184.25 L450.15,184.02 L450.68,183.75 L451.19,183.44 L451.69,183.11 L452.16,182.75 L452.63,182.37 L453.09,181.99 L453.54,181.60 L453.99,181.21 L454.44,180.81 L454.88,180.42 L455.33,180.03 L455.78,179.65 L456.23,179.28 L456.68,178.91 L457.14,178.55 L457.61,178.20 L458.10,177.87 L458.61,177.57 L459.13,177.28 L459.66,177.01 L460.22,176.78 L460.78,176.59 L461.36,176.45 L461.95,176.34 L462.54,176.26 L463.12,176.19 L463.71,176.14 L464.29,176.13 L464.88,176.17 L465.47,176.25 L466.06,176.37 L466.63,176.51 L467.21,176.68 L467.78,176.86 L468.34,177.05 L468.90,177.26 L469.46,177.48 L470.01,177.70 L470.56,177.93 L471.11,178.17 L471.66,178.41 L472.20,178.66 L472.74,178.91 L473.28,179.16 L473.82,179.42 L474.36,179.67 L474.90,179.93 L475.44,180.20 L475.97,180.46 L476.51,180.73 L477.05,180.99 L477.58,181.26 L478.11,181.53 L478.65,181.81 L479.18,182.08 L479.71,182.36 L480.24,182.64 L480.77,182.92 L481.29,183.20 L481.82,183.49 L482.35,183.77 L482.87,184.06 L483.39,184.35 L483.92,184.65 L484.44,184.94 L484.96,185.24 L485.47,185.54 L485.99,185.84 L486.51,186.15 L487.02,186.46 L487.53,186.77 L488.03,187.09 L488.53,187.42 L489.02,187.77 L489.49,188.13 L489.95,188.51 L490.40,188.89 L490.85,189.28 L491.30,189.66 L491.78,190.03 L492.26,190.38 L492.75,190.72 L493.25,191.05 L493.75,191.38 L494.25,191.71 L494.75,192.04 L495.26,192.36 L495.76,192.68 L496.27,193.00 L496.78,193.31 L497.29,193.62 L497.81,193.92 L498.33,194.22 L498.85,194.52 L499.37,194.81 L499.89,195.10 L500.42,195.39 L500.95,195.67 L501.49,195.94 L502.02,196.21 L502.56,196.47 L503.11,196.72 L503.65,196.96 L504.20,197.19 L504.76,197.41 L505.32,197.63 L505.87,197.84 L506.44,198.04 L507.00,198.23 L507.57,198.42 L508.14,198.60 L508.71,198.77 L509.27,198.95 L509.84,199.13 L510.40,199.31 L510.97,199.48 L511.54,199.64 L512.13,199.77 L512.72,199.88 L513.31,199.96 L513.90,200.02 L514.50,200.07 L515.10,200.09 L515.70,200.10 L516.30,200.10 L516.90,200.08 L517.50,200.05 L518.09,200.02 L518.69,199.98 L519.29,199.94 L519.89,199.89 L520.48,199.84 L521.08,199.79 L521.68,199.74 L522.27,199.68 L522.87,199.62 L523.46,199.55 L524.06,199.49 L524.65,199.42 L525.25,199.35 L525.84,199.28 L526.44,199.21 L527.03,199.13 L527.63,199.06 L528.22,198.98 L528.81,198.90 L529.41,198.83 L530.00,198.74 L530.59,198.66 L531.19,198.58 L531.78,198.50 L532.37,198.41 L532.97,198.32 L533.56,198.23 L534.15,198.15 L534.74,198.05 L535.34,197.96 L535.93,197.86 L536.52,197.76 L537.11,197.66 L537.70,197.55 L538.29,197.44 L538.88,197.34 L539.46,197.22 L540.05,197.11 L540.64,197.00 L541.23,196.88 L541.82,196.76 L542.40,196.64 L542.99,196.52 L543.58,196.40 L544.16,196.28 L544.75,196.16 L545.34,196.04 L545.92,195.91 L546.51,195.79 L547.10,195.66 L547.68,195.54 L548.27,195.41 L548.85,195.29 L549.44,195.16 L550.03,195.04 L550.61,194.92 L551.20,194.80" fill="none" stroke="#557096" stroke-width="1.20" stroke-linejoin="round" clip-path="url(#clipd)"/><path d="M404.10,206.70 L404.47,206.26 L404.84,205.82 L405.21,205.38 L405.59,204.94 L405.96,204.50 L406.33,204.06 L406.71,203.62 L407.08,203.18 L407.45,202.74 L407.83,202.30 L408.20,201.86 L408.57,201.42 L408.94,200.98 L409.31,200.54 L409.68,200.10 L410.05,199.65 L410.42,199.21 L410.78,198.76 L411.14,198.32 L411.51,197.87 L411.86,197.42 L412.22,196.97 L412.58,196.52 L412.93,196.06 L413.28,195.60 L413.62,195.14 L413.96,194.68 L414.30,194.21 L414.63,193.74 L414.95,193.26 L415.27,192.78 L415.57,192.28 L415.88,191.79 L416.16,191.29 L416.45,190.78 L416.72,190.26 L416.99,189.74 L417.25,189.22 L417.51,188.70 L417.76,188.17 L418.01,187.64 L418.26,187.11 L418.51,186.58 L418.76,186.05 L419.02,185.53 L419.29,185.01 L419.57,184.49 L419.85,183.98 L420.14,183.47 L420.42,182.96 L420.71,182.45 L420.99,181.94 L421.28,181.43 L421.57,180.92 L421.87,180.42 L422.18,179.92 L422.50,179.43 L422.84,178.96 L423.20,178.49 L423.58,178.05 L423.99,177.63 L424.42,177.24 L424.88,176.87 L425.35,176.53 L425.85,176.22 L426.38,175.96 L426.92,175.76 L427.49,175.61 L428.06,175.53 L428.64,175.50 L429.22,175.56 L429.79,175.67 L430.34,175.84 L430.88,176.05 L431.40,176.30 L431.91,176.56 L432.41,176.86 L432.90,177.17 L433.38,177.50 L433.85,177.84 L434.32,178.19 L434.78,178.54 L435.24,178.89 L435.70,179.25 L436.16,179.61 L436.61,179.97 L437.07,180.33 L437.51,180.70 L437.96,181.08 L438.40,181.46 L438.85,181.83 L439.31,182.20 L439.77,182.56 L440.24,182.90 L440.73,183.23 L441.23,183.53 L441.75,183.81 L442.27,184.07 L442.80,184.32 L443.34,184.55 L443.89,184.76 L444.44,184.95 L445.00,185.11 L445.57,185.25 L446.14,185.35 L446.72,185.42 L447.29,185.45 L447.87,185.44 L448.44,185.39 L449.01,185.31 L449.58,185.19 L450.14,185.04 L450.69,184.85 L451.23,184.63 L451.76,184.39 L452.28,184.11 L452.77,183.79 L453.23,183.44 L453.68,183.07 L454.12,182.69 L454.56,182.30 L455.00,181.91 L455.44,181.53 L455.90,181.16 L456.36,180.81 L456.83,180.48 L457.31,180.15 L457.79,179.84 L458.27,179.53 L458.76,179.23 L459.26,178.94 L459.76,178.66 L460.28,178.40 L460.81,178.15 L461.34,177.91 L461.89,177.70 L462.44,177.51 L463.00,177.34 L463.57,177.21 L464.14,177.08 L464.70,176.96 L465.27,176.86 L465.84,176.79 L466.42,176.78 L467.00,176.82 L467.58,176.90 L468.15,177.02 L468.72,177.15 L469.28,177.30 L469.84,177.47 L470.40,177.65 L470.95,177.84 L471.50,178.04 L472.05,178.24 L472.59,178.45 L473.13,178.67 L473.68,178.89 L474.22,179.11 L474.75,179.34 L475.29,179.56 L475.83,179.80 L476.36,180.03 L476.90,180.27 L477.43,180.51 L477.96,180.75 L478.50,180.99 L479.03,181.24 L479.55,181.49 L480.08,181.74 L480.61,182.00 L481.13,182.26 L481.66,182.52 L482.18,182.79 L482.70,183.06 L483.22,183.33 L483.73,183.60 L484.25,183.88 L484.77,184.15 L485.28,184.43 L485.79,184.71 L486.31,185.00 L486.82,185.28 L487.33,185.57 L487.84,185.86 L488.34,186.15 L488.85,186.45 L489.35,186.75 L489.85,187.05 L490.34,187.37 L490.82,187.70 L491.30,188.03 L491.76,188.38 L492.23,188.72 L492.70,189.06 L493.18,189.40 L493.67,189.72 L494.15,190.05 L494.65,190.36 L495.14,190.68 L495.63,191.00 L496.13,191.31 L496.62,191.62 L497.12,191.93 L497.62,192.23 L498.13,192.53 L498.63,192.82 L499.14,193.11 L499.65,193.40 L500.16,193.69 L500.67,193.97 L501.19,194.25 L501.70,194.53 L502.22,194.80 L502.74,195.07 L503.26,195.34 L503.79,195.60 L504.31,195.85 L504.84,196.10 L505.37,196.35 L505.91,196.59 L506.44,196.82 L506.98,197.05 L507.52,197.27 L508.06,197.48 L508.61,197.69 L509.16,197.89 L509.70,198.10 L510.25,198.30 L510.79,198.52 L511.33,198.74 L511.87,198.95 L512.42,199.13 L512.98,199.29 L513.55,199.41 L514.13,199.50 L514.71,199.56 L515.30,199.61 L515.88,199.64 L516.47,199.65 L517.05,199.65 L517.64,199.64 L518.22,199.62 L518.81,199.60 L519.39,199.57 L519.98,199.54 L520.56,199.50 L521.15,199.46 L521.73,199.42 L522.31,199.37 L522.90,199.32 L523.48,199.27 L524.06,199.22 L524.65,199.16 L525.23,199.11 L525.81,199.05 L526.39,198.99 L526.98,198.92 L527.56,198.86 L528.14,198.79 L528.72,198.73 L529.30,198.66 L529.88,198.59 L530.47,198.52 L531.05,198.44 L531.63,198.37 L532.21,198.30 L532.79,198.22 L533.37,198.14 L533.95,198.06 L534.53,197.98 L535.11,197.89 L535.69,197.80 L536.27,197.71 L536.84,197.62 L537.42,197.52 L538.00,197.42 L538.57,197.32 L539.15,197.21 L539.73,197.11 L540.30,197.00 L540.88,196.89 L541.45,196.77 L542.03,196.66 L542.60,196.55 L543.17,196.43 L543.75,196.31 L544.32,196.19 L544.90,196.07 L545.47,195.96 L546.04,195.83 L546.61,195.71 L547.19,195.59 L547.76,195.47 L548.33,195.35 L548.91,195.23 L549.48,195.10 L550.05,194.98 L550.63,194.87 L551.20,194.75" fill="none" stroke="#36507b" stroke-width="1.20" stroke-linejoin="round" clip-path="url(#clipd)"/><path d="M404.10,206.70 L404.51,206.30 L404.92,205.90 L405.34,205.51 L405.75,205.12 L406.17,204.72 L406.58,204.33 L407.00,203.94 L407.41,203.54 L407.83,203.15 L408.24,202.75 L408.66,202.36 L409.07,201.97 L409.49,201.57 L409.90,201.17 L410.31,200.78 L410.72,200.38 L411.13,199.98 L411.54,199.58 L411.95,199.18 L412.35,198.77 L412.76,198.37 L413.16,197.96 L413.56,197.56 L413.96,197.14 L414.36,196.73 L414.75,196.31 L415.14,195.89 L415.52,195.47 L415.89,195.04 L416.26,194.60 L416.62,194.15 L416.96,193.69 L417.30,193.23 L417.62,192.76 L417.93,192.28 L418.23,191.79 L418.52,191.30 L418.80,190.80 L419.07,190.29 L419.33,189.78 L419.58,189.27 L419.84,188.76 L420.09,188.25 L420.35,187.73 L420.61,187.23 L420.89,186.73 L421.18,186.23 L421.48,185.75 L421.77,185.26 L422.07,184.76 L422.36,184.27 L422.65,183.78 L422.95,183.29 L423.24,182.80 L423.55,182.32 L423.86,181.84 L424.18,181.37 L424.52,180.90 L424.88,180.46 L425.26,180.03 L425.67,179.63 L426.10,179.25 L426.55,178.90 L427.02,178.58 L427.52,178.29 L428.03,178.04 L428.56,177.82 L429.11,177.65 L429.66,177.52 L430.23,177.46 L430.80,177.46 L431.37,177.53 L431.93,177.65 L432.48,177.81 L433.02,177.99 L433.55,178.21 L434.07,178.45 L434.58,178.72 L435.07,179.00 L435.56,179.30 L436.04,179.61 L436.52,179.92 L437.00,180.24 L437.47,180.55 L437.95,180.87 L438.43,181.19 L438.90,181.51 L439.36,181.85 L439.82,182.20 L440.27,182.54 L440.72,182.89 L441.18,183.24 L441.64,183.58 L442.10,183.91 L442.58,184.23 L443.07,184.52 L443.58,184.79 L444.09,185.04 L444.61,185.27 L445.14,185.49 L445.68,185.69 L446.22,185.87 L446.78,186.01 L447.34,186.11 L447.91,186.18 L448.48,186.20 L449.05,186.17 L449.62,186.09 L450.18,185.98 L450.73,185.84 L451.28,185.67 L451.82,185.48 L452.35,185.26 L452.87,185.02 L453.38,184.76 L453.87,184.48 L454.34,184.15 L454.78,183.78 L455.20,183.40 L455.62,183.00 L456.03,182.61 L456.46,182.22 L456.89,181.86 L457.35,181.52 L457.83,181.20 L458.33,180.92 L458.83,180.65 L459.35,180.39 L459.86,180.15 L460.38,179.91 L460.90,179.67 L461.43,179.45 L461.96,179.23 L462.49,179.01 L463.02,178.81 L463.56,178.61 L464.10,178.42 L464.64,178.24 L465.19,178.07 L465.74,177.91 L466.28,177.74 L466.83,177.57 L467.39,177.45 L467.96,177.39 L468.53,177.38 L469.10,177.44 L469.66,177.52 L470.23,177.63 L470.78,177.75 L471.34,177.89 L471.89,178.05 L472.44,178.21 L472.99,178.38 L473.53,178.56 L474.07,178.74 L474.61,178.92 L475.15,179.12 L475.69,179.31 L476.23,179.51 L476.76,179.71 L477.29,179.92 L477.83,180.13 L478.36,180.34 L478.89,180.55 L479.42,180.77 L479.95,180.99 L480.47,181.22 L481.00,181.45 L481.52,181.68 L482.04,181.92 L482.56,182.16 L483.07,182.41 L483.59,182.66 L484.10,182.91 L484.61,183.17 L485.12,183.43 L485.63,183.69 L486.14,183.95 L486.65,184.22 L487.15,184.49 L487.66,184.76 L488.16,185.03 L488.66,185.30 L489.16,185.58 L489.67,185.85 L490.17,186.13 L490.67,186.41 L491.16,186.69 L491.66,186.98 L492.15,187.27 L492.64,187.56 L493.13,187.86 L493.62,188.16 L494.10,188.46 L494.59,188.77 L495.07,189.07 L495.56,189.37 L496.04,189.68 L496.53,189.98 L497.01,190.28 L497.50,190.58 L497.99,190.88 L498.48,191.17 L498.98,191.46 L499.47,191.75 L499.97,192.03 L500.47,192.30 L500.97,192.58 L501.47,192.85 L501.98,193.13 L502.48,193.40 L502.98,193.67 L503.49,193.94 L504.00,194.20 L504.50,194.47 L505.01,194.73 L505.52,194.99 L506.03,195.25 L506.54,195.51 L507.06,195.76 L507.57,196.01 L508.09,196.26 L508.61,196.50 L509.13,196.73 L509.65,196.96 L510.18,197.19 L510.70,197.42 L511.22,197.66 L511.73,197.91 L512.25,198.16 L512.76,198.41 L513.29,198.63 L513.83,198.81 L514.39,198.94 L514.95,199.04 L515.52,199.11 L516.09,199.15 L516.66,199.18 L517.24,199.20 L517.81,199.20 L518.38,199.21 L518.95,199.20 L519.52,199.18 L520.10,199.16 L520.67,199.14 L521.24,199.11 L521.81,199.08 L522.38,199.05 L522.95,199.01 L523.52,198.97 L524.09,198.93 L524.66,198.89 L525.23,198.84 L525.81,198.79 L526.37,198.74 L526.94,198.69 L527.51,198.64 L528.08,198.59 L528.65,198.53 L529.22,198.47 L529.79,198.41 L530.36,198.35 L530.93,198.29 L531.50,198.23 L532.07,198.16 L532.63,198.10 L533.20,198.03 L533.77,197.96 L534.34,197.88 L534.91,197.81 L535.47,197.73 L536.04,197.65 L536.60,197.57 L537.17,197.48 L537.73,197.39 L538.30,197.29 L538.86,197.19 L539.43,197.09 L539.99,196.99 L540.55,196.88 L541.11,196.78 L541.67,196.67 L542.24,196.56 L542.80,196.45 L543.36,196.34 L543.92,196.22 L544.48,196.11 L545.04,195.99 L545.60,195.87 L546.16,195.76 L546.72,195.64 L547.28,195.52 L547.84,195.40 L548.40,195.28 L548.96,195.16 L549.52,195.04 L550.08,194.93 L550.64,194.81 L551.20,194.70" fill="none" stroke="#1a3463" stroke-width="1.20" stroke-linejoin="round" clip-path="url(#clipd)"/><path d="M356.90,263.80 C356.88,262.83 356.80,260.30 356.80,258.00 C356.80,255.70 356.85,253.00 356.90,250.00 C356.95,247.00 356.95,244.33 357.10,240.00 C357.25,235.67 357.53,228.97 357.80,224.00 C358.07,219.03 358.17,213.68 358.70,210.20 C359.23,206.72 359.98,204.78 361.00,203.10 C362.02,201.42 363.63,200.63 364.80,200.10 C365.97,199.57 366.80,199.77 368.00,199.90 C369.20,200.03 369.67,200.28 372.00,200.90 C374.33,201.52 377.67,202.37 382.00,203.60 C386.33,204.83 393.33,207.43 398.00,208.30 C402.67,209.17 404.67,208.75 410.00,208.80 C415.33,208.85 422.33,208.80 430.00,208.60 C437.67,208.40 446.00,208.30 456.00,207.60 C466.00,206.90 479.80,205.40 490.00,204.40 C500.20,203.40 507.53,202.87 517.20,201.60 C526.87,200.33 542.33,197.73 548.00,196.80 C553.67,195.87 550.70,194.97 551.20,196.00 C551.70,197.03 551.10,200.47 551.00,203.00 C550.90,205.53 551.20,209.07 550.60,211.20 C550.00,213.33 549.60,214.53 547.40,215.80 C545.20,217.07 542.80,217.77 537.40,218.80 C532.00,219.83 527.90,220.87 515.00,222.00 C502.10,223.13 479.50,224.72 460.00,225.60 C440.50,226.48 411.27,226.27 398.00,227.30 C384.73,228.33 385.65,230.05 380.40,231.80 C375.15,233.55 369.60,236.13 366.50,237.80 C363.40,239.47 362.95,240.63 361.80,241.80 C360.65,242.97 360.08,243.60 359.60,244.80 C359.12,246.00 359.08,247.63 358.90,249.00 C358.72,250.37 358.63,251.33 358.50,253.00 C358.37,254.67 358.37,257.20 358.10,259.00 C357.83,260.80 357.10,263.00 356.90,263.80" fill="none" stroke="#b3cfe8" stroke-width="1.15" stroke-linejoin="round" stroke-dasharray="3.4 1.4" clip-path="url(#clipd)" stroke-dashoffset="0.0"/><path d="M354.32,266.85 C354.32,265.54 354.27,261.92 354.30,259.00 C354.33,256.08 354.42,252.78 354.50,249.32 C354.58,245.87 354.61,242.72 354.78,238.28 C354.94,233.83 355.16,227.39 355.50,222.62 C355.84,217.86 356.17,213.04 356.80,209.70 C357.43,206.36 358.22,204.28 359.27,202.60 C360.33,200.92 361.94,200.15 363.15,199.60 C364.36,199.05 365.23,199.20 366.55,199.32 C367.87,199.45 368.57,199.70 371.07,200.32 C373.58,200.95 377.11,201.86 381.60,203.10 C386.09,204.34 393.27,206.91 398.00,207.75 C402.73,208.59 404.67,208.12 410.00,208.15 C415.33,208.18 422.33,208.12 430.00,207.95 C437.67,207.78 446.00,207.79 456.00,207.12 C466.00,206.46 479.80,204.96 490.00,203.97 C500.20,202.99 507.53,202.46 517.20,201.20 C526.87,199.94 542.33,197.36 548.00,196.43 C553.67,195.49 550.68,194.55 551.20,195.60 C551.72,196.65 551.18,200.20 551.10,202.75 C551.02,205.30 551.35,208.78 550.75,210.90 C550.15,213.02 549.75,214.21 547.52,215.48 C545.30,216.74 542.82,217.45 537.40,218.48 C531.98,219.50 527.90,220.51 515.00,221.62 C502.10,222.74 479.50,224.35 460.00,225.18 C440.50,226.00 411.06,225.65 398.00,226.58 C384.94,227.50 386.74,229.16 381.65,230.75 C376.56,232.34 370.82,234.60 367.45,236.12 C364.07,237.65 362.98,238.70 361.40,239.88 C359.82,241.05 358.80,241.83 357.98,243.15 C357.15,244.47 356.79,246.08 356.45,247.80 C356.11,249.53 356.08,251.38 355.93,253.50 C355.77,255.62 355.75,258.27 355.53,260.50 C355.30,262.73 354.73,265.79 354.57,266.85" fill="none" stroke="#7994b6" stroke-width="1.15" stroke-linejoin="round" stroke-dasharray="3.4 1.4" clip-path="url(#clipd)" stroke-dashoffset="1.1"/><path d="M351.75,269.90 C351.76,268.25 351.74,263.54 351.80,260.00 C351.86,256.46 351.99,252.56 352.10,248.65 C352.21,244.74 352.27,241.12 352.45,236.55 C352.63,231.98 352.79,225.81 353.20,221.25 C353.61,216.69 354.17,212.39 354.90,209.20 C355.62,206.01 356.45,203.78 357.55,202.10 C358.65,200.42 360.24,199.66 361.50,199.10 C362.76,198.54 363.66,198.64 365.10,198.75 C366.54,198.86 367.47,199.11 370.15,199.75 C372.83,200.39 376.56,201.36 381.20,202.60 C385.84,203.84 393.20,206.38 398.00,207.20 C402.80,208.02 404.67,207.48 410.00,207.50 C415.33,207.52 422.33,207.44 430.00,207.30 C437.67,207.16 446.00,207.27 456.00,206.65 C466.00,206.02 479.80,204.53 490.00,203.55 C500.20,202.58 507.53,202.05 517.20,200.80 C526.87,199.55 542.33,196.98 548.00,196.05 C553.67,195.12 550.67,194.12 551.20,195.20 C551.73,196.27 551.25,199.93 551.20,202.50 C551.15,205.07 551.49,208.49 550.90,210.60 C550.31,212.71 549.90,213.89 547.65,215.15 C545.40,216.41 542.84,217.13 537.40,218.15 C531.96,219.17 527.90,220.15 515.00,221.25 C502.10,222.35 479.50,223.98 460.00,224.75 C440.50,225.52 410.85,225.03 398.00,225.85 C385.15,226.68 387.83,228.27 382.90,229.70 C377.97,231.13 372.05,233.07 368.40,234.45 C364.75,235.82 363.01,236.77 361.00,237.95 C358.99,239.12 357.52,240.06 356.35,241.50 C355.18,242.94 354.50,244.52 354.00,246.60 C353.50,248.68 353.53,251.43 353.35,254.00 C353.18,256.57 353.13,259.35 352.95,262.00 C352.77,264.65 352.37,268.58 352.25,269.90" fill="none" stroke="#557096" stroke-width="1.15" stroke-linejoin="round" stroke-dasharray="3.4 1.4" clip-path="url(#clipd)" stroke-dashoffset="2.2"/><path d="M349.18,272.95 C349.20,270.96 349.21,265.16 349.30,261.00 C349.39,256.84 349.56,252.34 349.70,247.98 C349.84,243.61 349.93,239.51 350.12,234.82 C350.32,230.14 350.42,224.23 350.90,219.88 C351.38,215.52 352.18,211.75 353.00,208.70 C353.82,205.65 354.68,203.28 355.83,201.60 C356.97,199.92 358.55,199.17 359.85,198.60 C361.15,198.03 362.09,198.08 363.65,198.18 C365.21,198.27 366.37,198.52 369.23,199.18 C372.08,199.83 376.00,200.85 380.80,202.10 C385.60,203.35 393.13,205.86 398.00,206.65 C402.87,207.44 404.67,206.85 410.00,206.85 C415.33,206.85 422.33,206.76 430.00,206.65 C437.67,206.54 446.00,206.76 456.00,206.17 C466.00,205.59 479.80,204.09 490.00,203.12 C500.20,202.16 507.53,201.64 517.20,200.40 C526.87,199.16 542.33,196.61 548.00,195.68 C553.67,194.74 550.65,193.70 551.20,194.80 C551.75,195.90 551.32,199.67 551.30,202.25 C551.27,204.83 551.64,208.20 551.05,210.30 C550.46,212.40 550.05,213.57 547.77,214.82 C545.50,216.08 542.86,216.82 537.40,217.82 C531.94,218.83 527.90,219.79 515.00,220.88 C502.10,221.96 479.50,223.62 460.00,224.32 C440.50,225.03 410.64,224.40 398.00,225.12 C385.36,225.85 388.92,227.38 384.15,228.65 C379.38,229.93 373.28,231.55 369.35,232.78 C365.43,234.00 363.04,234.85 360.60,236.03 C358.16,237.20 356.23,238.29 354.73,239.85 C353.22,241.41 352.21,242.96 351.55,245.40 C350.89,247.84 350.97,251.48 350.77,254.50 C350.58,257.52 350.52,260.43 350.38,263.50 C350.23,266.57 350.00,271.38 349.93,272.95" fill="none" stroke="#36507b" stroke-width="1.15" stroke-linejoin="round" stroke-dasharray="3.4 1.4" clip-path="url(#clipd)" stroke-dashoffset="3.3"/><path d="M346.60,276.00 C346.63,273.67 346.68,266.78 346.80,262.00 C346.92,257.22 347.13,252.12 347.30,247.30 C347.47,242.48 347.58,237.90 347.80,233.10 C348.02,228.30 348.05,222.65 348.60,218.50 C349.15,214.35 350.18,211.10 351.10,208.20 C352.02,205.30 352.92,202.78 354.10,201.10 C355.28,199.42 356.85,198.68 358.20,198.10 C359.55,197.52 360.52,197.52 362.20,197.60 C363.88,197.68 365.27,197.93 368.30,198.60 C371.33,199.27 375.45,200.35 380.40,201.60 C385.35,202.85 393.07,205.33 398.00,206.10 C402.93,206.87 404.67,206.22 410.00,206.20 C415.33,206.18 422.33,206.08 430.00,206.00 C437.67,205.92 446.00,206.25 456.00,205.70 C466.00,205.15 479.80,203.65 490.00,202.70 C500.20,201.75 507.53,201.23 517.20,200.00 C526.87,198.77 542.33,196.23 548.00,195.30 C553.67,194.37 550.63,193.28 551.20,194.40 C551.77,195.52 551.40,199.40 551.40,202.00 C551.40,204.60 551.78,207.92 551.20,210.00 C550.62,212.08 550.20,213.25 547.90,214.50 C545.60,215.75 542.88,216.50 537.40,217.50 C531.92,218.50 527.90,219.43 515.00,220.50 C502.10,221.57 479.50,223.25 460.00,223.90 C440.50,224.55 410.43,223.78 398.00,224.40 C385.57,225.02 390.02,226.48 385.40,227.60 C380.78,228.72 374.50,230.02 370.30,231.10 C366.10,232.18 363.07,232.92 360.20,234.10 C357.33,235.28 354.95,236.52 353.10,238.20 C351.25,239.88 349.92,241.40 349.10,244.20 C348.28,247.00 348.42,251.53 348.20,255.00 C347.98,258.47 347.90,261.50 347.80,265.00 C347.70,268.50 347.63,274.17 347.60,276.00" fill="none" stroke="#1a3463" stroke-width="1.15" stroke-linejoin="round" stroke-dasharray="3.4 1.4" clip-path="url(#clipd)" stroke-dashoffset="4.4"/><path d="M351.10,208.20 C351.60,207.02 352.92,202.78 354.10,201.10 C355.28,199.42 356.85,198.68 358.20,198.10 C359.55,197.52 360.52,197.52 362.20,197.60 C363.88,197.68 365.27,197.93 368.30,198.60 C371.33,199.27 375.45,200.35 380.40,201.60 C385.35,202.85 393.07,205.33 398.00,206.10 C402.93,206.87 408.00,206.18 410.00,206.20" fill="none" stroke="#1a3463" stroke-width="1.15" stroke-linejoin="round" clip-path="url(#clipd)"/><path d="M404.3,207.5V214.2" stroke="#1d3a6b" stroke-width="0.9"/><path d="M72.20,100.50h20" stroke="#b3cfe8" stroke-width="1.05"/><text transform="translate(100.10,105.00) scale(0.945,1)" font-size="10.2">0.29 V vs. RHE</text><path d="M72.20,114.20h20" stroke="#6c87aa" stroke-width="1.05"/><text transform="translate(100.10,118.70) scale(0.945,1)" font-size="10.2">0.31 V vs. RHE</text><path d="M174.20,100.50h20" stroke="#405a84" stroke-width="1.05"/><text transform="translate(202.10,105.00) scale(0.945,1)" font-size="10.2">0.33 V vs. RHE</text><path d="M174.20,114.20h20" stroke="#1a3463" stroke-width="1.05"/><text transform="translate(202.10,118.70) scale(0.945,1)" font-size="10.2">0.37 V vs. RHE</text><path d="M398.00,100.50h20" stroke="#b3cfe8" stroke-width="1.05"/><text transform="translate(425.90,105.00) scale(0.945,1)" font-size="10.2">50 s</text><path d="M398.00,114.20h20" stroke="#819dbd" stroke-width="1.05"/><text transform="translate(425.90,118.70) scale(0.945,1)" font-size="10.2">100 s</text><path d="M457.40,100.50h20" stroke="#627da2" stroke-width="1.05"/><text transform="translate(485.30,105.00) scale(0.945,1)" font-size="10.2">180 s</text><path d="M457.40,114.20h20" stroke="#48638b" stroke-width="1.05"/><text transform="translate(485.30,118.70) scale(0.945,1)" font-size="10.2">420 s</text><path d="M516.80,100.50h20" stroke="#304a76" stroke-width="1.05"/><text transform="translate(544.70,105.00) scale(0.945,1)" font-size="10.2">600 s</text><path d="M516.80,114.20h20" stroke="#1a3463" stroke-width="1.05"/><text transform="translate(544.70,118.70) scale(0.945,1)" font-size="10.2">900 s</text><path d="M88.00,257.90h20" stroke="#b3cfe8" stroke-width="1.05"/><text transform="translate(115.90,262.40) scale(0.945,1)" font-size="10.2">50 mL min<tspan font-size="7.6" dx="0.9" dy="-3.9">−1</tspan></text><path d="M179.00,243.40h20" stroke="#557096" stroke-width="1.05"/><text transform="translate(206.90,247.90) scale(0.945,1)" font-size="10.2">150 mL min<tspan font-size="7.6" dx="0.9" dy="-3.9">−1</tspan></text><path d="M179.00,257.90h20" stroke="#1a3463" stroke-width="1.05"/><text transform="translate(206.90,262.40) scale(0.945,1)" font-size="10.2">300 mL min<tspan font-size="7.6" dx="0.9" dy="-3.9">−1</tspan></text><path d="M408.00,244.20h20" stroke="#b3cfe8" stroke-width="1.05"/><text transform="translate(435.90,248.70) scale(0.945,1)" font-size="10.2">10 mV s<tspan font-size="7.6" dx="0.9" dy="-3.9">−1</tspan></text><path d="M408.00,258.00h20" stroke="#7994b6" stroke-width="1.05"/><text transform="translate(435.90,262.50) scale(0.945,1)" font-size="10.2">20 mV s<tspan font-size="7.6" dx="0.9" dy="-3.9">−1</tspan></text><path d="M489.40,230.40h20" stroke="#557096" stroke-width="1.05"/><text transform="translate(517.30,234.90) scale(0.945,1)" font-size="10.2">50 mV s<tspan font-size="7.6" dx="0.9" dy="-3.9">−1</tspan></text><path d="M489.40,244.20h20" stroke="#36507b" stroke-width="1.05"/><text transform="translate(517.30,248.70) scale(0.945,1)" font-size="10.2">100 mV s<tspan font-size="7.6" dx="0.9" dy="-3.9">−1</tspan></text><path d="M489.40,258.00h20" stroke="#1a3463" stroke-width="1.05"/><text transform="translate(517.30,262.50) scale(0.945,1)" font-size="10.2">200 mV s<tspan font-size="7.6" dx="0.9" dy="-3.9">−1</tspan></text><rect x="37.40" y="16.50" width="236.40" height="112.40" fill="none" stroke="#000" stroke-width="1"/><path d="M75.00,128.90v-3.50M75.00,16.50v3.50M119.20,128.90v-3.50M119.20,16.50v3.50M163.40,128.90v-3.50M163.40,16.50v3.50M207.60,128.90v-3.50M207.60,16.50v3.50M251.80,128.90v-3.50M251.80,16.50v3.50M37.40,19.30h3.50M273.80,19.30h-3.50M37.40,46.10h3.50M273.80,46.10h-3.50M37.40,72.80h3.50M273.80,72.80h-3.50M37.40,99.60h3.50M273.80,99.60h-3.50M37.40,126.40h3.50M273.80,126.40h-3.50" stroke="#000" stroke-width="1" fill="none"/><text transform="translate(32.00,23.30) scale(0.95,1)" text-anchor="end" font-size="11">2</text><text transform="translate(32.00,50.10) scale(0.95,1)" text-anchor="end" font-size="11">1</text><text transform="translate(32.00,76.80) scale(0.95,1)" text-anchor="end" font-size="11">0</text><text transform="translate(32.00,103.60) scale(0.95,1)" text-anchor="end" font-size="11">−1</text><text transform="translate(32.00,130.40) scale(0.95,1)" text-anchor="end" font-size="11">−2</text><rect x="338.00" y="16.50" width="236.30" height="112.40" fill="none" stroke="#000" stroke-width="1"/><path d="M375.60,128.90v-3.50M375.60,16.50v3.50M419.80,128.90v-3.50M419.80,16.50v3.50M464.00,128.90v-3.50M464.00,16.50v3.50M508.20,128.90v-3.50M508.20,16.50v3.50M552.40,128.90v-3.50M552.40,16.50v3.50M338.00,19.30h3.50M574.30,19.30h-3.50M338.00,46.10h3.50M574.30,46.10h-3.50M338.00,72.80h3.50M574.30,72.80h-3.50M338.00,99.60h3.50M574.30,99.60h-3.50M338.00,126.40h3.50M574.30,126.40h-3.50" stroke="#000" stroke-width="1" fill="none"/><text transform="translate(332.60,23.30) scale(0.95,1)" text-anchor="end" font-size="11">2</text><text transform="translate(332.60,50.10) scale(0.95,1)" text-anchor="end" font-size="11">1</text><text transform="translate(332.60,76.80) scale(0.95,1)" text-anchor="end" font-size="11">0</text><text transform="translate(332.60,103.60) scale(0.95,1)" text-anchor="end" font-size="11">−1</text><text transform="translate(332.60,130.40) scale(0.95,1)" text-anchor="end" font-size="11">−2</text><rect x="37.40" y="160.40" width="236.40" height="112.00" fill="none" stroke="#000" stroke-width="1"/><path d="M75.00,272.40v-3.50M75.00,160.40v3.50M119.20,272.40v-3.50M119.20,160.40v3.50M163.40,272.40v-3.50M163.40,160.40v3.50M207.60,272.40v-3.50M207.60,160.40v3.50M251.80,272.40v-3.50M251.80,160.40v3.50M37.40,163.30h3.50M273.80,163.30h-3.50M37.40,190.00h3.50M273.80,190.00h-3.50M37.40,216.70h3.50M273.80,216.70h-3.50M37.40,243.40h3.50M273.80,243.40h-3.50M37.40,270.10h3.50M273.80,270.10h-3.50" stroke="#000" stroke-width="1" fill="none"/><text transform="translate(32.00,167.30) scale(0.95,1)" text-anchor="end" font-size="11">2</text><text transform="translate(32.00,194.00) scale(0.95,1)" text-anchor="end" font-size="11">1</text><text transform="translate(32.00,220.70) scale(0.95,1)" text-anchor="end" font-size="11">0</text><text transform="translate(32.00,247.40) scale(0.95,1)" text-anchor="end" font-size="11">−1</text><text transform="translate(32.00,274.10) scale(0.95,1)" text-anchor="end" font-size="11">−2</text><rect x="338.00" y="160.40" width="236.30" height="112.00" fill="none" stroke="#000" stroke-width="1"/><path d="M375.60,272.40v-3.50M375.60,160.40v3.50M419.80,272.40v-3.50M419.80,160.40v3.50M464.00,272.40v-3.50M464.00,160.40v3.50M508.20,272.40v-3.50M508.20,160.40v3.50M552.40,272.40v-3.50M552.40,160.40v3.50M338.00,163.10h3.50M574.30,163.10h-3.50M338.00,188.40h3.50M574.30,188.40h-3.50M338.00,213.70h3.50M574.30,213.70h-3.50M338.00,239.00h3.50M574.30,239.00h-3.50M338.00,264.30h3.50M574.30,264.30h-3.50" stroke="#000" stroke-width="1" fill="none"/><text transform="translate(332.60,167.10) scale(0.95,1)" text-anchor="end" font-size="11">0.2</text><text transform="translate(332.60,192.40) scale(0.95,1)" text-anchor="end" font-size="11">0.1</text><text transform="translate(332.60,217.70) scale(0.95,1)" text-anchor="end" font-size="11">0.0</text><text transform="translate(332.60,243.00) scale(0.95,1)" text-anchor="end" font-size="11">−0.1</text><text transform="translate(332.60,268.30) scale(0.95,1)" text-anchor="end" font-size="11">−0.2</text><text x="155.6" y="8.6" text-anchor="middle" font-size="12.2">Deposition potential</text><text x="456.2" y="8.6" text-anchor="middle" font-size="12.2">Deposition time</text><text x="155.6" y="152.4" text-anchor="middle" font-size="12.2">Gas flow rate</text><text x="456.2" y="152.4" text-anchor="middle" font-size="12.2">Scanrate</text><text x="44.60" y="34.10" font-size="15.6">(a)</text><text x="345.20" y="34.10" font-size="15.6">(b)</text><text x="44.60" y="178.00" font-size="15.6">(c)</text><text x="345.20" y="178.00" font-size="15.6">(d)</text><text transform="translate(75.30,285.7) scale(0.95,1)" text-anchor="middle" font-size="11">0.2</text><text transform="translate(119.50,285.7) scale(0.95,1)" text-anchor="middle" font-size="11">0.4</text><text transform="translate(163.70,285.7) scale(0.95,1)" text-anchor="middle" font-size="11">0.6</text><text transform="translate(207.90,285.7) scale(0.95,1)" text-anchor="middle" font-size="11">0.8</text><text transform="translate(252.10,285.7) scale(0.95,1)" text-anchor="middle" font-size="11">1.0</text><text x="155.60" y="301.2" text-anchor="middle" font-size="11"><tspan font-style="italic">E</tspan> / V vs. RHE</text><text transform="translate(375.90,285.7) scale(0.95,1)" text-anchor="middle" font-size="11">0.2</text><text transform="translate(420.10,285.7) scale(0.95,1)" text-anchor="middle" font-size="11">0.4</text><text transform="translate(464.30,285.7) scale(0.95,1)" text-anchor="middle" font-size="11">0.6</text><text transform="translate(508.50,285.7) scale(0.95,1)" text-anchor="middle" font-size="11">0.8</text><text transform="translate(552.70,285.7) scale(0.95,1)" text-anchor="middle" font-size="11">1.0</text><text x="456.20" y="301.2" text-anchor="middle" font-size="11"><tspan font-style="italic">E</tspan> / V vs. RHE</text><text transform="translate(10.00,73.20) rotate(-90)" text-anchor="middle" font-size="11.6"><tspan font-style="italic">j</tspan><tspan font-size="8.4" dy="2.6">geo</tspan><tspan dy="-2.6"> / mA cm</tspan><tspan font-size="8.4" dy="-4.2">−2</tspan><tspan font-size="8.4" dx="-9.3" dy="7.4">geo</tspan></text><text transform="translate(301.80,73.20) rotate(-90)" text-anchor="middle" font-size="11.6"><tspan font-style="italic">j</tspan><tspan font-size="8.4" dy="2.6">geo</tspan><tspan dy="-2.6"> / mA cm</tspan><tspan font-size="8.4" dy="-4.2">−2</tspan><tspan font-size="8.4" dx="-9.3" dy="7.4">geo</tspan></text><text transform="translate(10.00,216.80) rotate(-90)" text-anchor="middle" font-size="11.6"><tspan font-style="italic">j</tspan><tspan font-size="8.4" dy="2.6">geo</tspan><tspan dy="-2.6"> / mA cm</tspan><tspan font-size="8.4" dy="-4.2">−2</tspan><tspan font-size="8.4" dx="-9.3" dy="7.4">geo</tspan></text><text transform="translate(300.3,217.1) rotate(-90)" text-anchor="middle" font-size="11.6"><tspan font-style="italic">j</tspan><tspan font-size="8.4" dy="2.6">geo</tspan><tspan dy="-2.6"> </tspan><tspan font-style="italic">ν</tspan><tspan font-size="8.4" dy="-5">−1</tspan><tspan dy="5"> / mA s cm</tspan><tspan font-size="8.4" dy="-4.2">−2</tspan><tspan font-size="8.4" dx="-9.3" dy="7.4">geo</tspan><tspan dy="-3.2"> mV</tspan><tspan font-size="8.4" dy="-5">−1</tspan></text></svg></body></html>
